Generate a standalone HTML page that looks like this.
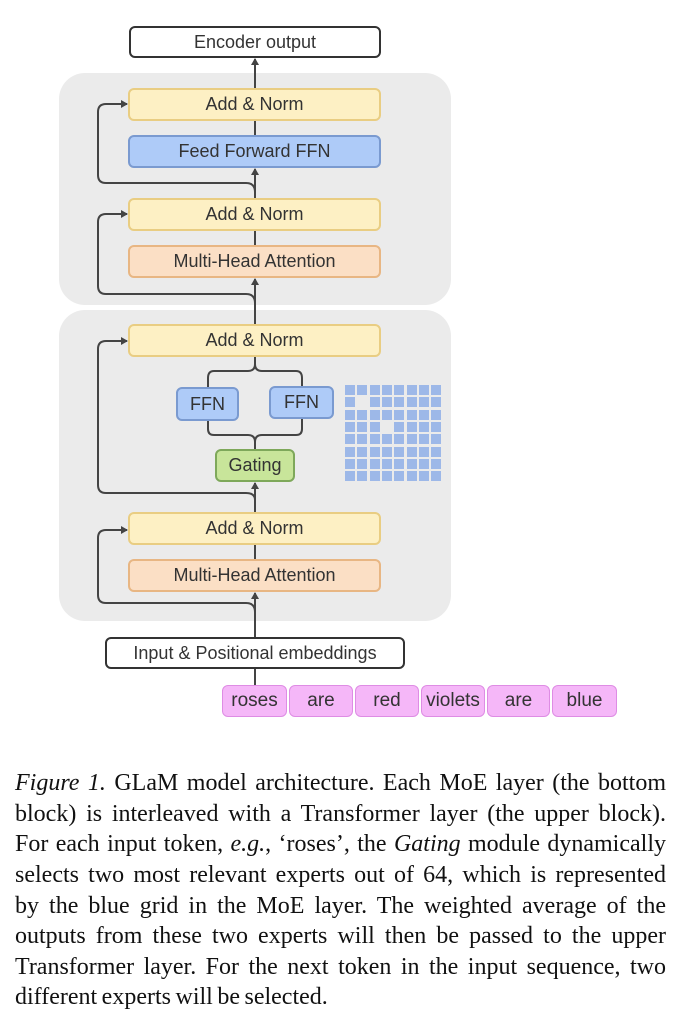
<!DOCTYPE html>
<html><head><meta charset="utf-8"><style>
body{margin:0;width:684px;height:1018px;background:#fff;position:relative;overflow:hidden;font-family:"Liberation Sans",sans-serif}
.b{position:absolute;box-sizing:border-box;border-radius:6px;display:flex;align-items:center;justify-content:center;font-size:18px;color:#333;border:2px solid}
.y{background:#fdf0c4;border-color:#e9cd82}
.o{background:#fbdfc5;border-color:#e8b683}
.bl{background:#aecbf8;border-color:#7a9ad0}
.g{background:#c8e59a;border-color:#7ea85a}
.w{background:#fff;border-color:#333}
.p{background:#f5b7f8;border-color:#de8ce4;border-width:1.5px;font-size:19px}
.gr{position:absolute;background:#ebebeb;border-radius:26px}
.cap{position:absolute;left:15px;width:651px;font-family:"Liberation Serif",serif;font-size:24px;color:#111;text-align:justify;text-align-last:justify;white-space:nowrap;height:30px;line-height:30px;word-spacing:-1.5px}
.cap.l{text-align-last:left}
</style></head><body>
<div class="gr" style="left:59px;top:73px;width:392px;height:232px"></div>
<div class="gr" style="left:59px;top:310px;width:392px;height:311px"></div>
<svg style="position:absolute;left:0;top:0" width="684" height="760">
<defs><marker id="a" markerWidth="8" markerHeight="8" refX="6" refY="4" orient="auto" markerUnits="userSpaceOnUse"><path d="M0,0 L7,4 L0,8 z" fill="#444"/></marker></defs>
<g stroke="#444" stroke-width="2" fill="none">
<line x1="255" y1="685" x2="255" y2="668"/>
<line x1="255" y1="638" x2="255" y2="593" marker-end="url(#a)"/>
<line x1="255" y1="560" x2="255" y2="544"/>
<line x1="255" y1="513" x2="255" y2="483" marker-end="url(#a)"/>
<path d="M255,612 Q255,603 246,603 L106,603 Q98,603 98,595 L98,538 Q98,530 106,530 L127,530" marker-end="url(#a)"/>
<path d="M255,500 Q255,493 246,493 L106,493 Q98,493 98,485 L98,349 Q98,341 106,341 L127,341" marker-end="url(#a)"/>
<path d="M255,450 L255,442 Q255,435 248,435 L214,435 Q208,435 208,429 L208,420"/>
<path d="M255,442 Q255,435 262,435 L296,435 Q302,435 302,429 L302,418"/>
<path d="M208,388 L208,378 Q208,371 214,371 L248,371 Q255,371 255,364 L255,357"/>
<path d="M255,364 Q255,371 262,371 L296,371 Q302,371 302,378 L302,387"/>
<line x1="255" y1="325" x2="255" y2="279" marker-end="url(#a)"/>
<line x1="255" y1="246" x2="255" y2="230"/>
<line x1="255" y1="199" x2="255" y2="169" marker-end="url(#a)"/>
<line x1="255" y1="136" x2="255" y2="120"/>
<line x1="255" y1="89" x2="255" y2="59" marker-end="url(#a)"/>
<path d="M255,303 Q255,294 246,294 L106,294 Q98,294 98,286 L98,222 Q98,214 106,214 L127,214" marker-end="url(#a)"/>
<path d="M255,192 Q255,183 246,183 L106,183 Q98,183 98,175 L98,112 Q98,104 106,104 L127,104" marker-end="url(#a)"/>
</g>
</svg>
<div class="b w" style="left:129px;top:26px;width:252px;height:32px">Encoder output</div>
<div class="b y" style="left:128px;top:88px;width:253px;height:33px">Add &amp; Norm</div>
<div class="b bl" style="left:128px;top:135px;width:253px;height:33px">Feed Forward FFN</div>
<div class="b y" style="left:128px;top:198px;width:253px;height:33px">Add &amp; Norm</div>
<div class="b o" style="left:128px;top:245px;width:253px;height:33px">Multi-Head Attention</div>
<div class="b y" style="left:128px;top:324px;width:253px;height:33px">Add &amp; Norm</div>
<div class="b bl" style="left:176px;top:387px;width:63px;height:34px">FFN</div>
<div class="b bl" style="left:269px;top:386px;width:65px;height:33px">FFN</div>
<div class="b g" style="left:215px;top:449px;width:80px;height:33px">Gating</div>
<div class="b y" style="left:128px;top:512px;width:253px;height:33px">Add &amp; Norm</div>
<div class="b o" style="left:128px;top:559px;width:253px;height:33px">Multi-Head Attention</div>
<div class="b w" style="left:105px;top:637px;width:300px;height:32px">Input &amp; Positional embeddings</div>
<div class="b p" style="left:222px;top:685px;width:65px;height:32px">roses</div>
<div class="b p" style="left:289px;top:685px;width:64px;height:32px">are</div>
<div class="b p" style="left:355px;top:685px;width:64px;height:32px">red</div>
<div class="b p" style="left:421px;top:685px;width:64px;height:32px">violets</div>
<div class="b p" style="left:487px;top:685px;width:63px;height:32px">are</div>
<div class="b p" style="left:552px;top:685px;width:65px;height:32px">blue</div>
<div id="gd" style="position:absolute;left:345px;top:385px"></div>
<script>
var h='';for(var r=0;r<8;r++)for(var c=0;c<8;c++){if((r==1&&c==1)||(r==3&&c==3))continue;h+='<div style="position:absolute;left:'+(c*12.3)+'px;top:'+(r*12.3)+'px;width:10px;height:10px;background:#9db8e8"></div>';}document.getElementById('gd').innerHTML=h;
</script>
<div class="cap" style="top:768px"><i>Figure 1.</i> GLaM model architecture. Each MoE layer (the bottom</div>
<div class="cap" style="top:799px">block) is interleaved with a Transformer layer (the upper block).</div>
<div class="cap" style="top:829px">For each input token, <i>e.g.</i>, ‘roses’, the <i>Gating</i> module dynamically</div>
<div class="cap" style="top:860px">selects two most relevant experts out of 64, which is represented</div>
<div class="cap" style="top:891px">by the blue grid in the MoE layer. The weighted average of the</div>
<div class="cap" style="top:921px">outputs from these two experts will then be passed to the upper</div>
<div class="cap" style="top:952px">Transformer layer. For the next token in the input sequence, two</div>
<div class="cap l" style="top:982px">different experts will be selected.</div>
</body></html>
